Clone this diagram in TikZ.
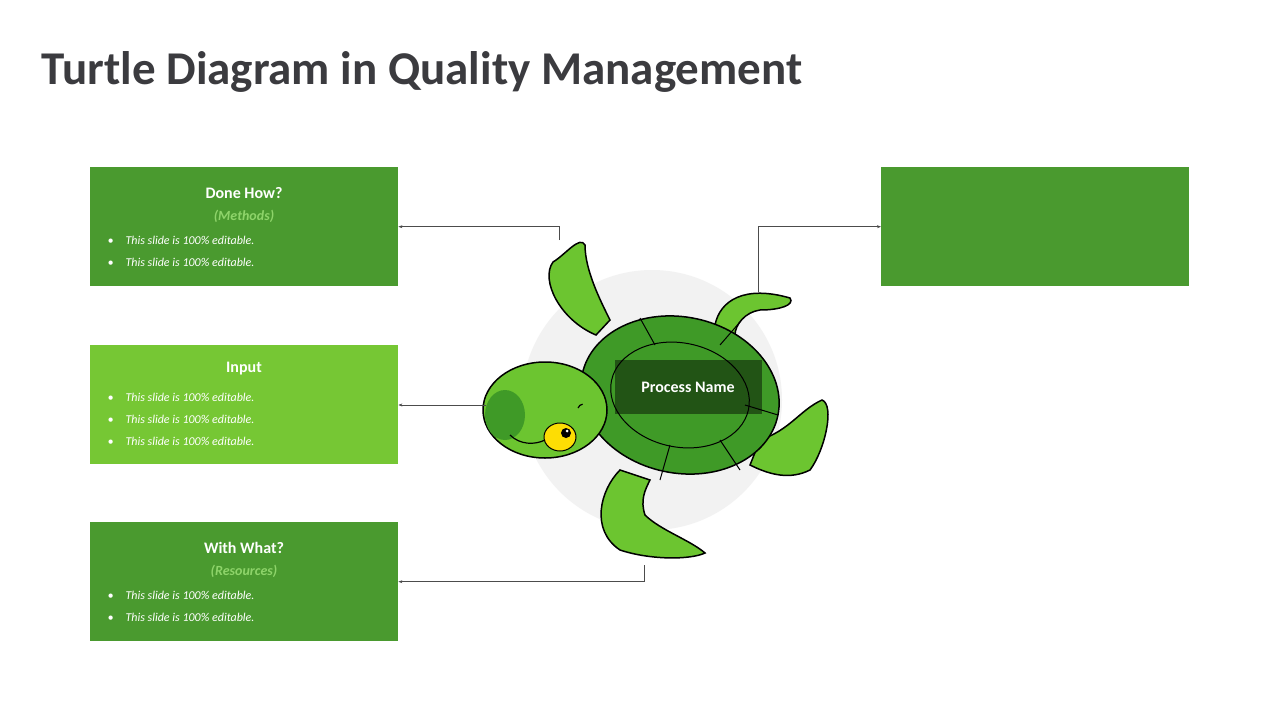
\documentclass[tikz,border=0pt]{standalone}
\usepackage{fontspec}
\setmainfont{Carlito}
\usetikzlibrary{arrows.meta}
\definecolor{dg}{HTML}{4A9A2F}
\definecolor{lg}{HTML}{76C734}
\definecolor{mg}{HTML}{8ED46A}
\definecolor{fl}{HTML}{6CC530}
\definecolor{sh}{HTML}{3F9A27}
\definecolor{ttl}{HTML}{3B3B3F}
\tikzset{
 card/.style={fill=#1,draw=none,minimum width=308,minimum height=119,anchor=north west,inner sep=0},
 conn/.style={draw=black!70,line width=0.6,-{Stealth[length=4,width=3]}},
 flip/.style={fill=fl,draw=black,line width=1.5},
 head/.style={font=\bfseries\fontsize{16}{18}\selectfont,text=white},
 sub/.style={font=\bfseries\itshape\fontsize{14}{16}\selectfont,text=mg},
 itm/.style={font=\itshape\fontsize{12}{14}\selectfont,text=white,anchor=west},
}
\begin{document}
\begin{tikzpicture}[x=1pt,y=-1pt]
\useasboundingbox (0,0) rectangle (1280,720);
\fill[white] (0,0) rectangle (1280,720);
\node[anchor=west,text=ttl,font=\bfseries\fontsize{47}{50}\selectfont] (title) at (38,72) {Turtle Diagram in Quality Management};
% cards
\node[card=dg] (done) at (90,167) {};
\node[card=lg] (input) at (90,345) {};
\node[card=dg] (with) at (90,522) {};
\node[card=dg] (out) at (881,167) {};
\node[head] at (244,193) {Done How?};
\node[sub] at (244,216) {(Methods)};
\foreach \y in {240,262}{\node[itm] at (104,\y) {•\hspace{12pt}This slide is 100\% editable.};}
\node[head] at (244,369) {Input};
\foreach \y in {397,419,441}{\node[itm] at (104,\y) {•\hspace{12pt}This slide is 100\% editable.};}
\node[head] at (244,548) {With What?};
\node[sub] at (244,571) {(Resources)};
\foreach \y in {595,617}{\node[itm] at (104,\y) {•\hspace{12pt}This slide is 100\% editable.};}
% turtle
\fill[black!5] (652,400) circle (130);
\coordinate (c1) at (559,240);
\coordinate (c2) at (486,405);
\coordinate (c3) at (644,565);
\coordinate (c4) at (758,292);
\draw[flip] (596,335) .. controls (560,320) and (540,280) .. (553,262) .. controls (565,255) and (580,235) .. (585,245) .. controls (585,270) and (600,300) .. (610,320) -- cycle;
\draw[flip] (715,325) .. controls (720,300) and (745,285) .. (790,298) .. controls (795,305) and (780,310) .. (760,310) .. controls (745,312) and (735,325) .. (735,335) -- cycle;
\draw[flip] (760,440) .. controls (790,430) and (800,410) .. (822,400) .. controls (835,405) and (825,450) .. (810,470) .. controls (790,480) and (770,475) .. (750,465) -- cycle;
\draw[flip] (620,470) .. controls (600,490) and (590,530) .. (620,550) .. controls (650,560) and (690,560) .. (705,553) .. controls (690,540) and (660,530) .. (645,515) .. controls (640,500) and (645,490) .. (650,480) -- cycle;
\draw[fill=sh,draw=black,line width=1.5,rotate around={-12:(680,395)}] (680,395) ellipse (100 and 78);
\draw[black,line width=1,rotate around={-12:(680,395)}] (680,395) ellipse (70 and 52);
\draw[black,line width=1] (655,345) -- (640,318) (720,345) -- (740,322) (745,405) -- (778,415) (670,445) -- (660,480) (720,440) -- (740,470);
\draw[fill=fl,draw=black,line width=1.5] (545,410) ellipse (62 and 48);
\fill[sh] (505,415) ellipse (20 and 25);
\draw[fill=yellow!80!orange,draw=black,line width=1] (560,437) ellipse (16 and 14);
\fill[black] (566,433) circle (5);
\fill[white] (567,431) circle (1.5);
\draw[black,line width=1.2] (578,408) arc (200:260:6);
\draw[black,line width=1.2] (510,435) .. controls (520,445) and (535,445) .. (545,440);
\node[fill=black,fill opacity=0.45,minimum width=147,minimum height=54,inner sep=0] (proc) at (688,387) {};
\node[text=white,font=\bfseries\fontsize{16}{18}\selectfont] at (688,387) {Process Name};
% connectors
\draw[conn] (c1) |- (done.east);
\draw[conn] (c2) -- (c2 -| input.east);
\draw[conn] (c3) |- (with.east);
\draw[conn] (c4) |- (out.west);
\end{tikzpicture}
\end{document}
